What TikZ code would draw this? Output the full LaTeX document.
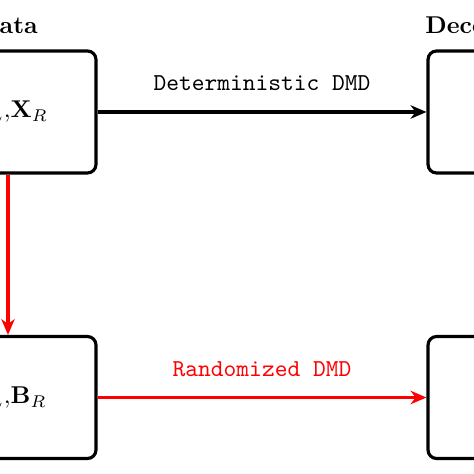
\documentclass[tikz,border=0pt]{standalone}
\usetikzlibrary{arrows.meta}
\begin{document}
\begin{tikzpicture}[x=0.4115pt,y=-0.4115pt,
  box/.style={draw,line width=1.3pt,rounded corners=3.5pt,minimum width=72.4pt,minimum height=50.2pt,inner sep=0pt},
  conn/.style={line width=1.3pt,-{Stealth[length=6.5pt,width=5.5pt,inset=2pt]}},
  hdr/.style={font=\bfseries,anchor=base,inner sep=0pt},
  lbl/.style={font=\ttfamily,anchor=base,inner sep=0pt}]
\useasboundingbox (0,0) rectangle (474,474);
\clip (0,0) rectangle (474,474);
\node[box] (dl) at (8,112) {$\mathbf{X}_L{,}\mathbf{X}_R$};
\node[box] (bl) at (8,397.5) {$\mathbf{B}_L{,}\mathbf{B}_R$};
\node[box] (dr) at (516,112) {};
\node[box] (br) at (516,397.5) {};
\node[hdr] (hd) at (8,34) {Data};
\node[hdr] (hc) at (516,34) {Decomposition};
\draw[conn] (dl.east) -- (dr.west);
\draw[conn,red] (bl.east) -- (br.west);
\draw[conn,red] (dl.south) -- (bl.north);
\node[lbl] (ld) at (262,91) {Deterministic DMD};
\node[lbl,red] (lr) at (262,376) {Randomized DMD};
\end{tikzpicture}
\end{document}
